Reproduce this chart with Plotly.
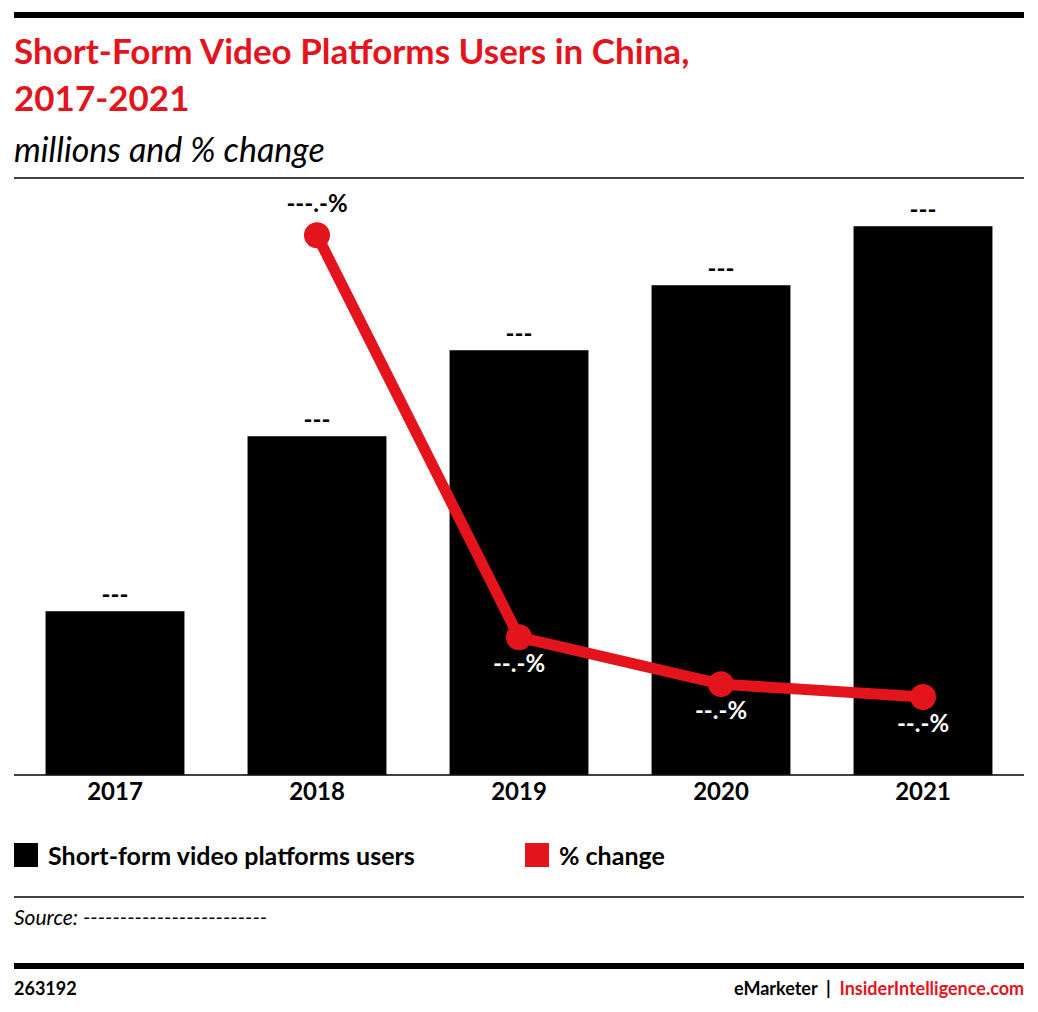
import plotly.graph_objects as go

years = ["2017", "2018", "2019", "2020", "2021"]
users = [164, 339, 425, 490, 549]
user_labels = ["<b>---</b>"] * 5
pct_years = ["2018", "2019", "2020", "2021"]
pct_change = [106.8, 25.4, 15.9, 13.3]
pct_labels = ["<b>---.-%</b>", "<b>--.-%</b>", "<b>--.-%</b>", "<b>--.-%</b>"]

# page body has an 8px default margin, so the figure is drawn 8px in
OFF = 8
W, H = 1038 - 2 * OFF, 1012 - 2 * OFF
L, R, T, B = 14 - OFF, 14 - OFF, 178 - OFF, 237 - OFF
ph = H - T - B
pw = W - L - R
FONT = "Lato"
RED = "#e4141d"


def px(x):
    return (x - OFF - L) / pw


def py(y):
    return (H - B - (y - OFF)) / ph


fig = go.Figure()
fig.add_trace(go.Bar(
    x=years, y=users, width=0.69, marker_color="black",
    text=user_labels, textposition="outside", cliponaxis=False,
    textfont=dict(size=24, color="black", family=FONT),
))
fig.add_trace(go.Scatter(
    x=pct_years, y=pct_change, yaxis="y2", mode="lines+markers+text",
    line=dict(color=RED, width=11), marker=dict(color=RED, size=26),
    text=pct_labels, cliponaxis=False,
    textposition=["top center", "bottom center", "bottom center", "bottom center"],
    textfont=dict(size=24, color=["black", "white", "white", "white"], family=FONT),
))

fig.update_layout(
    width=W, height=H, showlegend=False,
    plot_bgcolor="white", paper_bgcolor="white",
    margin=dict(l=L, r=R, t=T, b=B),
    font=dict(family=FONT, color="black"),
    xaxis=dict(tickvals=years, ticktext=["<b>%s</b>" % y for y in years],
               tickfont=dict(size=24), showgrid=False, showline=False, ticks=""),
    yaxis=dict(range=[0, 597], visible=False, showgrid=False),
    yaxis2=dict(range=[-2.5, 118.4], overlaying="y", visible=False, showgrid=False),
    bargap=0.31,
)

rules = [(15, 6), (178, 1.5), (775, 1.5), (897, 1.5), (966, 6)]
for y, w in rules:
    fig.add_shape(type="line", xref="paper", yref="paper", x0=px(14), x1=px(1024),
                  y0=py(y), y1=py(y), line=dict(color="black", width=w))

# legend
fig.add_shape(type="rect", xref="paper", yref="paper", x0=px(14), x1=px(38),
              y0=py(843), y1=py(867), fillcolor="black", line_width=0)
fig.add_shape(type="rect", xref="paper", yref="paper", x0=px(525), x1=px(549),
              y0=py(843), y1=py(867), fillcolor=RED, line_width=0)


def note(x, y, text, size, color="black", anchor="left", italic=False, bold=False):
    if bold:
        text = "<b>%s</b>" % text
    if italic:
        text = "<i>%s</i>" % text
    fig.add_annotation(xref="paper", yref="paper", x=px(x), y=py(y), text=text,
                       showarrow=False, xanchor=anchor, yanchor="middle",
                       font=dict(size=size, color=color, family=FONT))


note(12, 50, "Short-Form Video Platforms Users in China,", 35, RED, bold=True)
note(12, 97, "2017-2021", 35, RED, bold=True)
note(12, 148, "millions and % change", 34, italic=True)
note(46, 855, "Short-form video platforms users", 25, bold=True)
note(557, 855, "% change", 25, bold=True)
note(12, 916, "Source: -------------------------", 21, italic=True)
note(12, 988, "263192", 18, bold=True)
note(1026, 988, "eMarketer  |  <span style='color:%s'>InsiderIntelligence.com</span>" % RED,
     18, anchor="right", bold=True)

fig.write_html("out.html")
